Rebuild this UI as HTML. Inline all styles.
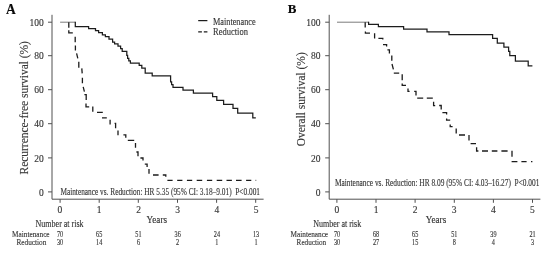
<!DOCTYPE html>
<html><head><meta charset="utf-8"><title>Survival curves</title>
<style>
html,body{margin:0;padding:0;background:#fff;}
svg{display:block;}
text{font-family:"Liberation Serif",serif;fill:#363636;stroke:#363636;stroke-width:0.14px;}
.ax{stroke:#505050;stroke-width:1;fill:none;}
.s{stroke:#1c1c1c;stroke-width:1.25;fill:none;stroke-linejoin:miter;}
.d{stroke:#1c1c1c;stroke-width:1.3;fill:none;}
.g{stroke:#5a5a5a;stroke-width:0.8;fill:none;}
.t9{font-size:9.5px;}
.n{font-size:7.2px;}
.r{font-size:8.8px;}
</style></head><body>
<svg width="550" height="254" viewBox="0 0 550 254">
<rect width="550" height="254" fill="#fff"/>
<g>
<text transform="translate(6.1,13.6) scale(0.98,1)" font-size="13.8px" font-weight="bold" style="fill:#0a0a0a;stroke:#0a0a0a;stroke-width:0.15px">A</text>
<path class="ax" d="M52.0,14.8 V199.2 H263.6"/>
<path class="ax" d="M48.0,22.2 H52.0"/>
<text class="t9" x="43.8" y="25.8" text-anchor="end">100</text>
<path class="ax" d="M48.0,55.7 H52.0"/>
<text class="t9" x="43.8" y="59.3" text-anchor="end">80</text>
<path class="ax" d="M48.0,89.7 H52.0"/>
<text class="t9" x="43.8" y="93.3" text-anchor="end">60</text>
<path class="ax" d="M48.0,123.7 H52.0"/>
<text class="t9" x="43.8" y="127.3" text-anchor="end">40</text>
<path class="ax" d="M48.0,157.9 H52.0"/>
<text class="t9" x="43.8" y="161.5" text-anchor="end">20</text>
<path class="ax" d="M48.0,191.9 H52.0"/>
<text class="t9" x="43.8" y="195.5" text-anchor="end">0</text>
<path class="ax" d="M60.1,199.2 V202.8"/>
<text class="t9" x="59.9" y="213.1" text-anchor="middle">0</text>
<path class="ax" d="M99.2,199.2 V202.8"/>
<text class="t9" x="99.0" y="213.1" text-anchor="middle">1</text>
<path class="ax" d="M138.3,199.2 V202.8"/>
<text class="t9" x="138.5" y="213.1" text-anchor="middle">2</text>
<path class="ax" d="M177.5,199.2 V202.8"/>
<text class="t9" x="177.7" y="213.1" text-anchor="middle">3</text>
<path class="ax" d="M216.6,199.2 V202.8"/>
<text class="t9" x="216.8" y="213.1" text-anchor="middle">4</text>
<path class="ax" d="M255.7,199.2 V202.8"/>
<text class="t9" x="256.0" y="213.1" text-anchor="middle">5</text>
<text font-size="11.45px" text-anchor="middle" transform="translate(28.0,107.8) rotate(-90)">Recurrence-free survival (%)</text>
<text font-size="9.4px" x="146.6" y="222.7" textLength="20.4" lengthAdjust="spacingAndGlyphs">Years</text>
<text font-size="9.3px" x="35.6" y="226.7" textLength="48" lengthAdjust="spacingAndGlyphs">Number at risk</text>
<text class="r" x="12.1" y="237" textLength="37.5" lengthAdjust="spacingAndGlyphs">Maintenance</text>
<text class="r" x="16.4" y="245.2" textLength="30" lengthAdjust="spacingAndGlyphs">Reduction</text>
<text class="n" x="56.9" y="237.1" textLength="6.2" lengthAdjust="spacingAndGlyphs">70</text>
<text class="n" x="56.9" y="245.3" textLength="6.2" lengthAdjust="spacingAndGlyphs">30</text>
<text class="n" x="96.1" y="237.1" textLength="6.2" lengthAdjust="spacingAndGlyphs">65</text>
<text class="n" x="96.1" y="245.3" textLength="6.2" lengthAdjust="spacingAndGlyphs">14</text>
<text class="n" x="135.3" y="237.1" textLength="6.2" lengthAdjust="spacingAndGlyphs">51</text>
<text class="n" x="136.9" y="245.3" textLength="3.1" lengthAdjust="spacingAndGlyphs">6</text>
<text class="n" x="174.6" y="237.1" textLength="6.2" lengthAdjust="spacingAndGlyphs">36</text>
<text class="n" x="176.1" y="245.3" textLength="3.1" lengthAdjust="spacingAndGlyphs">2</text>
<text class="n" x="213.8" y="237.1" textLength="6.2" lengthAdjust="spacingAndGlyphs">24</text>
<text class="n" x="215.3" y="245.3" textLength="3.1" lengthAdjust="spacingAndGlyphs">1</text>
<text class="n" x="253.0" y="237.1" textLength="6.2" lengthAdjust="spacingAndGlyphs">13</text>
<text class="n" x="254.6" y="245.3" textLength="3.1" lengthAdjust="spacingAndGlyphs">1</text>
<text font-size="9.8px" x="60.4" y="195.4" textLength="199.6" lengthAdjust="spacingAndGlyphs">Maintenance vs. Reduction: HR 5.35 (95% CI: 3.18–9.01)&#160; P&lt;0.001</text>
<path class="g" d="M60.1,22.2 L75.3,22.2"/>
<path class="d" d="M68.8,22.2 L68.8,27.7 M68.8,30.2 L68.8,32.8 L72.8,32.8 M75.2,36.8 L75.2,42.2 M75.4,45.4 L75.4,50.4 M76.6,53.4 L77.8,58.4 M78.8,61.8 L78.8,67.8 M81.8,68.4 L82.2,73.4 M82.4,77.8 L82.4,83.2 M83.2,86.8 L84.4,91.6 M84.4,94.6 L86.2,94.6 L86.2,100.0 M86.0,103.4 L86.0,106.8 L89.2,106.8 M92.8,106.4 L92.8,111.8 M97.0,112.4 L102.8,112.4 M102.0,117.8 L106.8,117.8 M110.1,119.8 L110.1,124.4 M114.6,123.4 L115.6,123.4 L115.6,128.2 M118.0,130.6 L118.0,135.2 M123.4,134.8 L125.8,134.8 L125.8,137.8 M127.8,140.4 L134.2,140.4 M135.5,143.0 L135.5,147.8 M136.4,152.0 L138.0,152.0 L138.0,156.2 M140.4,158.0 L143.0,158.0 L143.0,160.6 M144.8,164.1 L147.1,164.1 L147.1,167.0 M149.0,169.0 L149.0,173.8 M153.0,175.0 L158.6,175.0 M162.8,175.0 L165.8,175.0 L165.8,176.8 M167.4,180.3 L172.6,180.3 M177.2,180.3 L182.4,180.3 M186.9,180.3 L192.2,180.3 M196.7,180.3 L202.2,180.3 M206.9,180.3 L212.2,180.3 M216.7,180.3 L222.2,180.3 M226.5,180.3 L231.9,180.3 M236.0,180.3 L241.6,180.3 M246.1,180.3 L251.3,180.3 M255.6,180.3 L256.2,180.3"/>
<path class="s" d="M75.3,21.8 L75.3,26.6 L88.6,26.6 L88.6,28.6 L95.5,28.6 L95.5,30.6 L98.6,30.6 L98.6,32.6 L102.4,32.6 L102.4,34.8 L105.4,34.8 L105.4,36.6 L109.0,36.6 L109.0,39.0 L112.6,39.0 L112.6,42.0 L114.6,42.0 L114.6,43.8 L118.0,43.8 L118.0,46.2 L120.6,46.2 L120.6,48.6 L122.2,48.6 L122.2,51.3 L126.8,51.3 L126.8,55.4 L127.6,55.4 L127.6,58.4 L128.8,58.4 L128.8,60.8 L130.4,60.8 L130.4,63.0 L139.2,63.0 L139.2,65.4 L141.8,65.4 L141.8,68.2 L145.2,68.2 L145.2,73.0 L152.2,73.0 L152.2,75.9 L170.6,75.9 L170.6,81.8 L171.6,81.8 L171.6,84.5 L173.0,84.5 L173.0,87.4 L183.0,87.4 L183.0,90.0 L193.4,90.0 L193.4,93.2 L212.6,93.2 L212.6,96.6 L216.8,96.6 L216.8,100.4 L223.6,100.4 L223.6,104.3 L233.0,104.3 L233.0,108.3 L237.7,108.3 L237.7,113.1 L252.8,113.1 L252.8,117.9 L255.8,117.9"/>
<path class="s" d="M198.2,20.6 H207.4"/>
<path class="d" d="M198.2,31.8 H201.9 M203.8,31.8 H207.4"/>
<text font-size="9.8px" x="213.0" y="24.7" textLength="42.6" lengthAdjust="spacingAndGlyphs">Maintenance</text>
<text font-size="9.8px" x="213.0" y="34.6" textLength="34.9" lengthAdjust="spacingAndGlyphs">Reduction</text>
</g>
<g>
<text transform="translate(287.8,13.3) scale(0.98,1)" font-size="13.2px" font-weight="bold" style="fill:#0a0a0a;stroke:#0a0a0a;stroke-width:0.15px">B</text>
<path class="ax" d="M329.2,14.8 V199.2 H540.4"/>
<path class="ax" d="M325.2,22.2 H329.2"/>
<text class="t9" x="320.6" y="25.8" text-anchor="end">100</text>
<path class="ax" d="M325.2,55.7 H329.2"/>
<text class="t9" x="320.6" y="59.3" text-anchor="end">80</text>
<path class="ax" d="M325.2,89.7 H329.2"/>
<text class="t9" x="320.6" y="93.3" text-anchor="end">60</text>
<path class="ax" d="M325.2,123.7 H329.2"/>
<text class="t9" x="320.6" y="127.3" text-anchor="end">40</text>
<path class="ax" d="M325.2,157.9 H329.2"/>
<text class="t9" x="320.6" y="161.5" text-anchor="end">20</text>
<path class="ax" d="M325.2,191.9 H329.2"/>
<text class="t9" x="320.6" y="195.5" text-anchor="end">0</text>
<path class="ax" d="M336.9,199.2 V202.8"/>
<text class="t9" x="336.8" y="213.1" text-anchor="middle">0</text>
<path class="ax" d="M376.0,199.2 V202.8"/>
<text class="t9" x="376.0" y="213.1" text-anchor="middle">1</text>
<path class="ax" d="M415.1,199.2 V202.8"/>
<text class="t9" x="415.0" y="213.1" text-anchor="middle">2</text>
<path class="ax" d="M454.3,199.2 V202.8"/>
<text class="t9" x="454.1" y="213.1" text-anchor="middle">3</text>
<path class="ax" d="M493.4,199.2 V202.8"/>
<text class="t9" x="493.3" y="213.1" text-anchor="middle">4</text>
<path class="ax" d="M532.5,199.2 V202.8"/>
<text class="t9" x="532.4" y="213.1" text-anchor="middle">5</text>
<text font-size="11.45px" text-anchor="middle" transform="translate(304.8,99.3) rotate(-90)">Overall survival (%)</text>
<text font-size="9.4px" x="425.8" y="222.7" textLength="20.4" lengthAdjust="spacingAndGlyphs">Years</text>
<text font-size="9.3px" x="313.2" y="226.7" textLength="48" lengthAdjust="spacingAndGlyphs">Number at risk</text>
<text class="r" x="290.6" y="237" textLength="37.5" lengthAdjust="spacingAndGlyphs">Maintenance</text>
<text class="r" x="296.6" y="245.2" textLength="29.6" lengthAdjust="spacingAndGlyphs">Reduction</text>
<text class="n" x="333.9" y="237.1" textLength="6.2" lengthAdjust="spacingAndGlyphs">70</text>
<text class="n" x="333.9" y="245.3" textLength="6.2" lengthAdjust="spacingAndGlyphs">30</text>
<text class="n" x="373.0" y="237.1" textLength="6.2" lengthAdjust="spacingAndGlyphs">68</text>
<text class="n" x="373.0" y="245.3" textLength="6.2" lengthAdjust="spacingAndGlyphs">27</text>
<text class="n" x="412.1" y="237.1" textLength="6.2" lengthAdjust="spacingAndGlyphs">65</text>
<text class="n" x="412.1" y="245.3" textLength="6.2" lengthAdjust="spacingAndGlyphs">15</text>
<text class="n" x="451.2" y="237.1" textLength="6.2" lengthAdjust="spacingAndGlyphs">51</text>
<text class="n" x="452.8" y="245.3" textLength="3.1" lengthAdjust="spacingAndGlyphs">8</text>
<text class="n" x="490.3" y="237.1" textLength="6.2" lengthAdjust="spacingAndGlyphs">39</text>
<text class="n" x="491.8" y="245.3" textLength="3.1" lengthAdjust="spacingAndGlyphs">4</text>
<text class="n" x="529.4" y="237.1" textLength="6.2" lengthAdjust="spacingAndGlyphs">21</text>
<text class="n" x="531.0" y="245.3" textLength="3.1" lengthAdjust="spacingAndGlyphs">3</text>
<text font-size="9.8px" x="335.0" y="186.2" textLength="204.4" lengthAdjust="spacingAndGlyphs">Maintenance vs. Reduction: HR 8.09 (95% CI: 4.03–16.27)&#160; P&lt;0.001</text>
<path class="g" d="M337.0,22.2 L368.6,22.2"/>
<path class="d" d="M365.2,22.2 L365.2,27.6 M365.4,31.4 L365.4,33.2 L370.0,33.2 M374.6,33.2 L374.6,38.4 M378.4,38.4 L382.8,38.4 L382.8,39.6 M383.0,44.6 L386.6,44.6 L386.6,46.6 M387.4,49.8 L389.4,49.8 L389.4,53.4 M391.8,55.4 L391.8,60.8 M392.0,64.0 L393.4,69.4 M393.8,73.2 L399.2,73.2 M402.2,74.2 L402.2,80.2 M402.2,83.4 L402.2,85.4 L406.0,85.4 M408.0,88.6 L408.0,91.4 L409.6,91.4 M414.2,91.4 L416.0,91.4 L416.0,95.4 M417.2,98.2 L423.2,98.2 M426.8,98.2 L432.8,98.2 M433.6,101.8 L433.6,105.7 L435.2,105.7 M439.2,105.5 L441.2,105.5 L441.2,109.6 M442.4,112.6 L446.6,112.6 L446.6,114.4 M446.6,118.6 L446.6,120.2 L450.2,120.2 M450.2,124.6 L450.2,126.7 L452.6,126.7 M456.2,128.4 L456.2,133.4 M459.0,135.0 L465.0,135.0 M469.0,135.0 L469.0,140.6 M470.6,143.6 L476.0,143.6 M476.6,147.2 L476.6,151.0 L478.4,151.0 M482.0,151.0 L488.0,151.0 M491.8,151.0 L497.4,151.0 M501.4,151.0 L507.6,151.0 M512.0,150.8 L512.0,156.8 M511.6,161.6 L517.4,161.6 M521.4,161.6 L526.6,161.6 M531.0,161.6 L532.4,161.6"/>
<path class="s" d="M368.6,21.8 L368.6,24.3 L378.4,24.3 L378.4,26.7 L403.6,26.7 L403.6,29.2 L427.0,29.2 L427.0,31.8 L449.0,31.8 L449.0,34.6 L492.6,34.6 L492.6,38.3 L497.3,38.3 L497.3,43.0 L503.9,43.0 L503.9,47.2 L508.6,47.2 L508.6,51.4 L509.8,51.4 L509.8,55.6 L515.4,55.6 L515.4,61.0 L528.2,61.0 L528.2,65.8 L532.4,65.8"/>
</g>
</svg></body></html>
